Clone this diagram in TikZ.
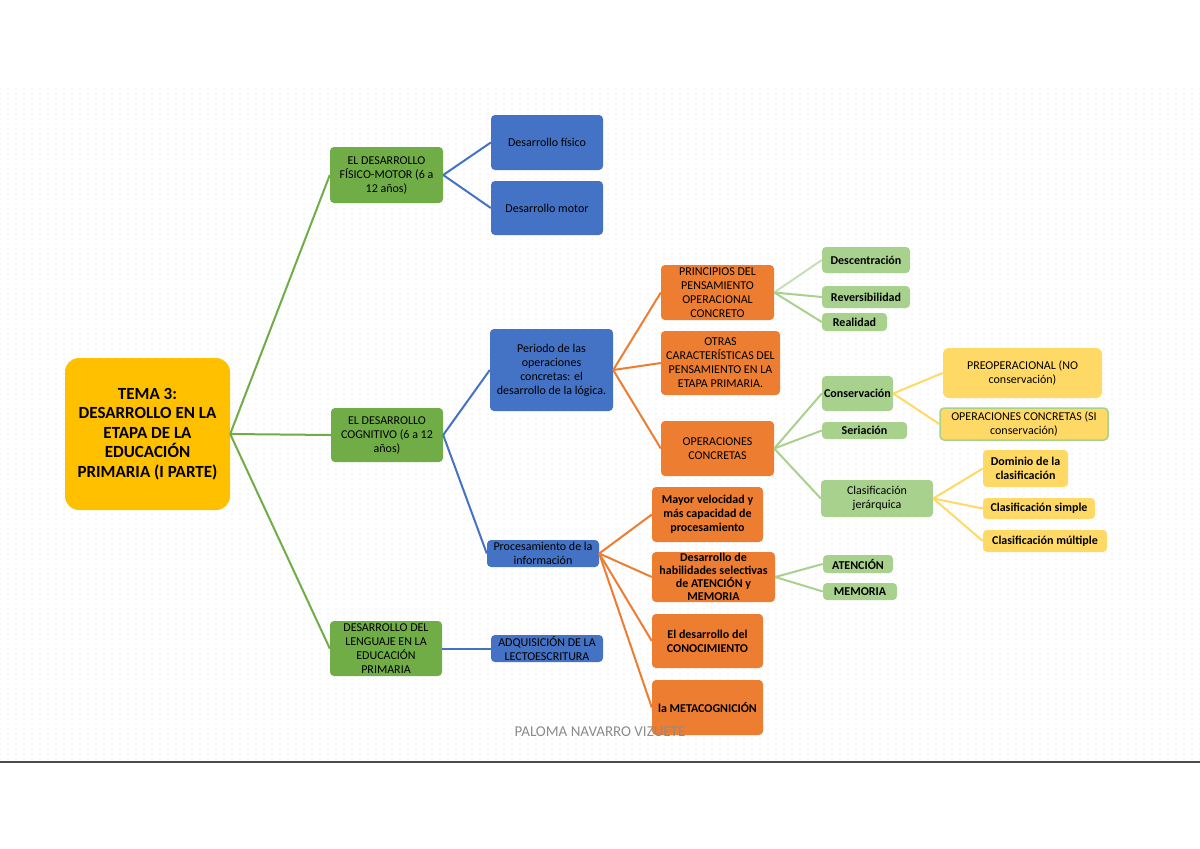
\documentclass[tikz,border=0pt]{standalone}
\usepackage{fontspec}
\setmainfont{Carlito}
\usetikzlibrary{patterns.meta}
\definecolor{cRoot}{HTML}{FFC000}
\definecolor{cGreen}{HTML}{70AD47}
\definecolor{cBlue}{HTML}{4472C4}
\definecolor{cOrange}{HTML}{ED7D31}
\definecolor{cLGreen}{HTML}{A9D18E}
\definecolor{cLLGreen}{HTML}{C5E0B4}
\definecolor{cLYellow}{HTML}{FFD966}
\definecolor{cFoot}{HTML}{8C8C8C}
\tikzdeclarepattern{
  name=bgdots,
  type=uncolored,
  bottom left={(-1pt,-1pt)},
  top right={(1pt,1pt)},
  tile size={(8pt,5pt)},
  code={\fill (0pt,0pt) circle (0.6pt);}
}
\tikzset{
  box/.style={rounded corners=4pt, inner sep=0pt, align=center, text=black,
    font=\fontsize{12}{14}\selectfont},
  bbox/.style={box, font=\bfseries\fontsize{12}{14}\selectfont},
  rootbox/.style={rounded corners=14pt, inner sep=0pt, align=center, text=black,
    fill=cRoot, font=\bfseries\fontsize{17}{19.5}\selectfont},
  gfill/.style={fill=cGreen},
  bfill/.style={fill=cBlue},
  ofill/.style={fill=cOrange},
  lfill/.style={fill=cLGreen},
  yfill/.style={fill=cLYellow},
  sz/.style 2 args={minimum width=#1pt, minimum height=#2pt},
  link/.style={line width=2pt},
  lgreen/.style={link, draw=cGreen},
  lblue/.style={link, draw=cBlue},
  lorange/.style={link, draw=cOrange},
  llg/.style={link, draw=cLGreen},
  lyel/.style={link, draw=cLYellow},
}
\begin{document}
\begin{tikzpicture}[x=1pt,y=-1pt]
\useasboundingbox (0,0) rectangle (1200,849);
\fill[white] (0,0) rectangle (1200,849);
\fill[pattern=bgdots, pattern color=black!13] (0,85) rectangle (1200,761);
\draw[line width=1.6pt, black!70] (0,762) -- (1200,762);

% root
\node[rootbox, sz={165}{152}] (root) at (147.5,434) {TEMA 3:\\DESARROLLO EN LA\\ETAPA DE LA\\EDUCACIÓN\\PRIMARIA (I PARTE)};

% level 1
\node[box, gfill, sz={113}{56}] (g1) at (386.5,175) {EL DESARROLLO\\FÍSICO-MOTOR (6 a\\12 años)};
\node[box, gfill, sz={112}{54}] (g2) at (387,435) {EL DESARROLLO\\COGNITIVO (6 a 12\\años)};
\node[box, gfill, sz={112}{55}] (g3) at (386,648.5) {DESARROLLO DEL\\LENGUAJE EN LA\\EDUCACIÓN\\PRIMARIA};

% blue
\node[box, bfill, sz={112}{55}] (b1) at (547,142.5) {Desarrollo físico};
\node[box, bfill, sz={112}{54}] (b2) at (547,208) {Desarrollo motor};
\node[box, bfill, sz={123}{82}] (b3) at (551.5,370) {Periodo de las\\operaciones\\concretas: el\\desarrollo de la lógica.};
\node[box, bfill, sz={112}{27}] (b4) at (543,553.5) {Procesamiento de la\\información};
\node[box, bfill, sz={112}{27}] (b5) at (547,648.5) {ADQUISICIÓN DE LA\\LECTOESCRITURA};

% orange
\node[box, ofill, sz={113}{55}] (o1) at (717.5,292.5) {PRINCIPIOS DEL\\PENSAMIENTO\\OPERACIONAL\\CONCRETO};
\node[box, ofill, sz={119}{64}] (o2) at (720.5,363) {OTRAS\\CARACTERÍSTICAS DEL\\PENSAMIENTO EN LA\\ETAPA PRIMARIA.};
\node[box, ofill, sz={113}{55}] (o3) at (717.5,448.5) {OPERACIONES\\CONCRETAS};
\node[bbox, ofill, sz={111}{55}] (o4) at (707.5,514.5) {Mayor velocidad y\\más capacidad de\\procesamiento};
\node[bbox, ofill, sz={123}{50}, font=\bfseries\fontsize{12}{13}\selectfont] (o5) at (713.5,577) {Desarrollo de\\habilidades selectivas\\de ATENCIÓN y\\MEMORIA};
\node[bbox, ofill, sz={111}{54}] (o6) at (707.5,641) {El desarrollo del\\CONOCIMIENTO};
\node[bbox, ofill, sz={111}{55}] (o7) at (707.5,707.5) {la METACOGNICIÓN};

% light green
\node[bbox, lfill, sz={88}{26}] (l1) at (866,260) {Descentración};
\node[bbox, lfill, sz={88}{22}] (l2) at (866,297) {Reversibilidad};
\node[bbox, lfill, sz={65}{18}] (l3) at (854.5,322) {Realidad};
\node[bbox, lfill, sz={71}{35}] (l4) at (857.5,393.5) {Conservación};
\node[bbox, lfill, sz={85}{17}] (l5) at (864.5,430.5) {Seriación};
\node[box, lfill, sz={112}{37}] (l6) at (877,498.5) {Clasificación\\jerárquica};
\node[bbox, lfill, sz={70}{18}] (l7) at (858,564) {ATENCIÓN};
\node[bbox, lfill, sz={74}{17}] (l8) at (860,591.5) {MEMORIA};

% light yellow
\node[box, yfill, sz={159}{50}, rounded corners=6pt] (y1) at (1022.5,373) {PREOPERACIONAL (NO\\conservación)};
\node[box, yfill, draw=cLGreen, line width=1.5pt, sz={168}{32}] (y2) at (1024,424) {OPERACIONES CONCRETAS (SI\\conservación)};
\node[bbox, yfill, sz={85}{37}] (y3) at (1025.5,468.5) {Dominio de la\\clasificación};
\node[bbox, yfill, sz={112}{21}] (y4) at (1039,508.5) {Clasificación simple};
\node[bbox, yfill, sz={124}{22}] (y5) at (1045,541) {Clasificación múltiple};

% connectors
\draw[lgreen] (root.east) -- (g1.west);
\draw[lgreen] (root.east) -- (g2.west);
\draw[lgreen] (root.east) -- (g3.west);
\draw[lblue] (g1.east) -- (b1.west);
\draw[lblue] (g1.east) -- (b2.west);
\draw[lblue] (g2.east) -- (b3.west);
\draw[lblue] (g2.east) -- (b4.west);
\draw[lblue] (g3.east) -- (b5.west);
\draw[lorange] (b3.east) -- (o1.west);
\draw[lorange] (b3.east) -- (o2.west);
\draw[lorange] (b3.east) -- (o3.west);
\draw[lorange] (b4.east) -- (o4.west);
\draw[lorange] (b4.east) -- (o5.west);
\draw[lorange] (b4.east) -- (o6.west);
\draw[lorange] (b4.east) -- (o7.west);
\draw[link, draw=cLLGreen] (o1.east) -- (l1.west);
\draw[llg] (o1.east) -- (l2.west);
\draw[llg] (o1.east) -- (l3.west);
\draw[llg] (o3.east) -- (l4.west);
\draw[llg] (o3.east) -- (l5.west);
\draw[llg] (o3.east) -- (l6.west);
\draw[llg] (o5.east) -- (l7.west);
\draw[llg] (o5.east) -- (l8.west);
\draw[lyel] (l4.east) -- (y1.west);
\draw[lyel] (l4.east) -- (y2.west);
\draw[lyel] (l6.east) -- (y3.west);
\draw[lyel] (l6.east) -- (y4.west);
\draw[lyel] (l6.east) -- (y5.west);

% footer
\node[text=cFoot, font=\fontsize{15}{17}\selectfont, inner sep=0pt] (foot) at (600,732) {PALOMA NAVARRO VIZUETE};
\end{tikzpicture}
\end{document}
